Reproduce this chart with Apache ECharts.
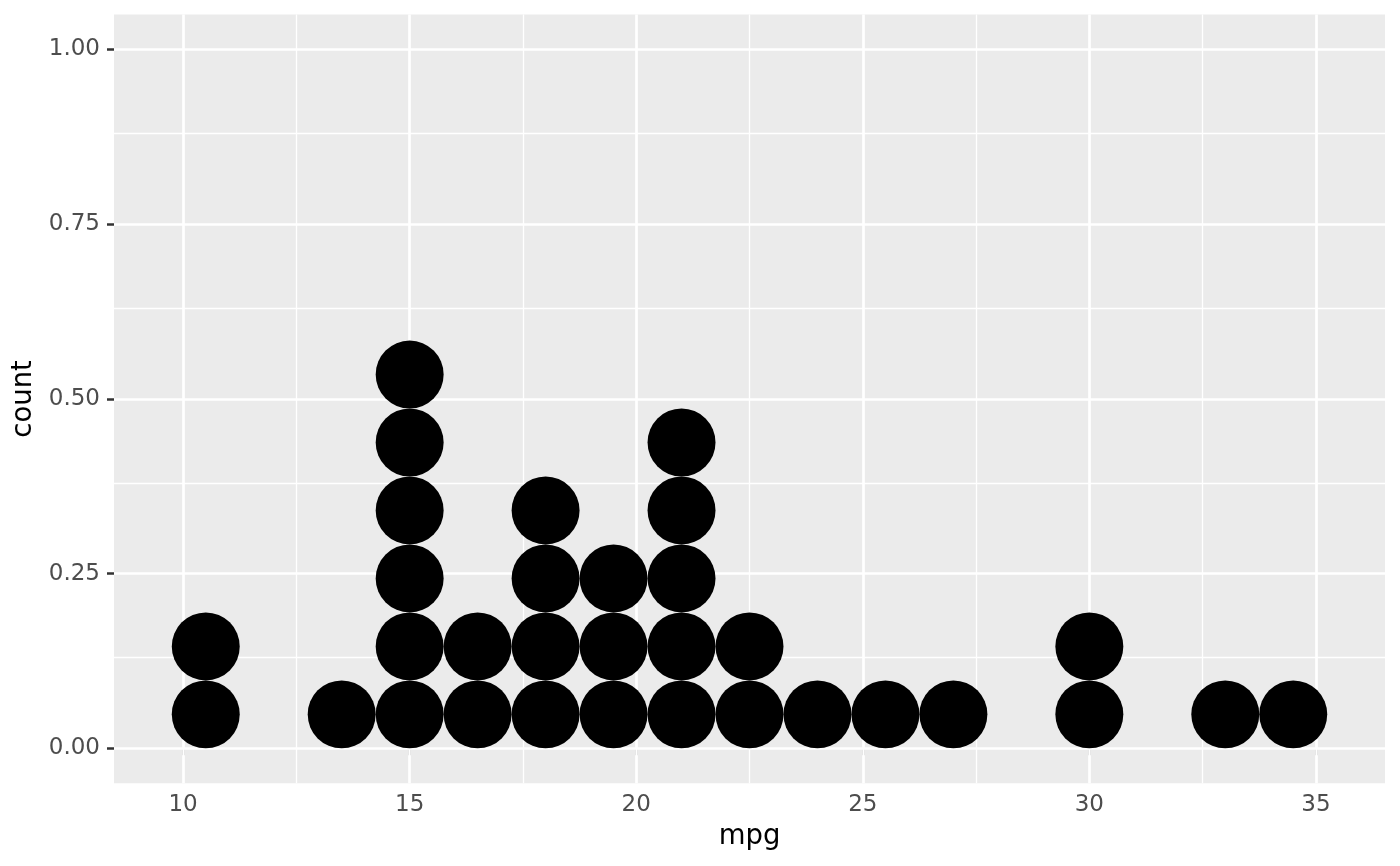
<!DOCTYPE html>
<html><head><meta charset="utf-8">
<script src="https://cdn.jsdelivr.net/npm/echarts@6/dist/echarts.min.js"></script>
<style>html,body{margin:0;padding:0;background:#fff}#c{width:1400px;height:866px}</style>
</head><body><div id="c"></div>
<script>
// bin centres (mpg) and number of cars per bin (binwidth 1.5)
const binCenters = [10.5, 13.5, 15, 16.5, 18, 19.5, 21, 22.5, 24, 25.5, 27, 30, 33, 34.5];
const binCounts  = [2, 1, 6, 2, 4, 3, 5, 2, 1, 1, 1, 2, 1, 1];
const binWidth = 1.5;
const xTicks = [10, 15, 20, 25, 30, 35];
const xMinorGrid = [12.5, 17.5, 22.5, 27.5, 32.5];
const yTicks = [0, 0.25, 0.5, 0.75, 1];
const yMinorGrid = [0.125, 0.375, 0.625, 0.875];
const xRange = [8.475, 36.525];
const yRange = [-0.05, 1.05];

const W = 1400, H = 866;
const G = {left: 114, right: 15, top: 14.5, bottom: 82.7};
const gridW = W - G.left - G.right, gridH = H - G.top - G.bottom;
const pxPerX = gridW / (xRange[1] - xRange[0]);
const pxPerY = gridH / (yRange[1] - yRange[0]);
const dotD = binWidth * pxPerX;
const R = pxPerY / dotD; // stack units (dot diameters) per count unit
const stackRange = [yRange[0] * R, yRange[1] * R];

const dots = [];
binCenters.forEach((c, i) => {
  for (let k = 1; k <= binCounts[i]; k++) dots.push([c, k - 0.5]);
});

const FONT = 'DejaVu Sans';
const major = {color: '#FFFFFF', width: 2.7, type: 'solid'};
const minor = {color: '#FFFFFF', width: 1.35, type: 'solid'};
const gridLines = []
  .concat(xMinorGrid.map(v => ({xAxis: v, lineStyle: minor})))
  .concat(yMinorGrid.map(v => ({yAxis: v, lineStyle: minor})))
  .concat(xTicks.map(v => ({xAxis: v, lineStyle: major})))
  .concat(yTicks.map(v => ({yAxis: v, lineStyle: major})));

const chart = echarts.init(document.getElementById('c'), null, {renderer: 'canvas'});
chart.setOption({
  animation: false,
  backgroundColor: '#FFFFFF',
  grid: {left: G.left, right: G.right, top: G.top, bottom: G.bottom, show: true,
         backgroundColor: '#EBEBEB', borderWidth: 0},
  xAxis: {
    type: 'value', min: xRange[0], max: xRange[1],
    axisLine: {show: false},
    axisTick: {show: true, length: 7, customValues: xTicks, lineStyle: {color: '#333333', width: 2.5}},
    axisLabel: {customValues: xTicks, color: '#4D4D4D', fontSize: 23, fontFamily: FONT, margin: 10},
    splitLine: {show: false},
    name: 'mpg', nameLocation: 'middle', nameGap: 40,
    nameTextStyle: {color: '#000000', fontSize: 27.5, fontFamily: FONT}
  },
  yAxis: [{
    type: 'value', min: yRange[0], max: yRange[1],
    axisLine: {show: false},
    axisTick: {show: true, length: 7, customValues: yTicks, lineStyle: {color: '#333333', width: 2.5}},
    axisLabel: {customValues: yTicks, color: '#4D4D4D', fontSize: 23, fontFamily: FONT, margin: 14,
                formatter: v => v.toFixed(2)},
    splitLine: {show: false},
    name: 'count', nameLocation: 'middle', nameGap: 75,
    nameTextStyle: {color: '#000000', fontSize: 27.5, fontFamily: FONT}
  }, {
    type: 'value', min: stackRange[0], max: stackRange[1], show: false, splitLine: {show: false}
  }],
  series: [{
    type: 'scatter', xAxisIndex: 0, yAxisIndex: 0, data: [], z: 1, silent: true,
    markLine: {z: 1, silent: true, symbol: ['none', 'none'], label: {show: false}, animation: false,
               emphasis: {disabled: true}, data: gridLines}
  }, {
    type: 'scatter', xAxisIndex: 0, yAxisIndex: 1, z: 20,
    symbol: 'circle', symbolSize: dotD,
    itemStyle: {color: '#000000', opacity: 1},
    data: dots
  }]
});
</script>
</body></html>
